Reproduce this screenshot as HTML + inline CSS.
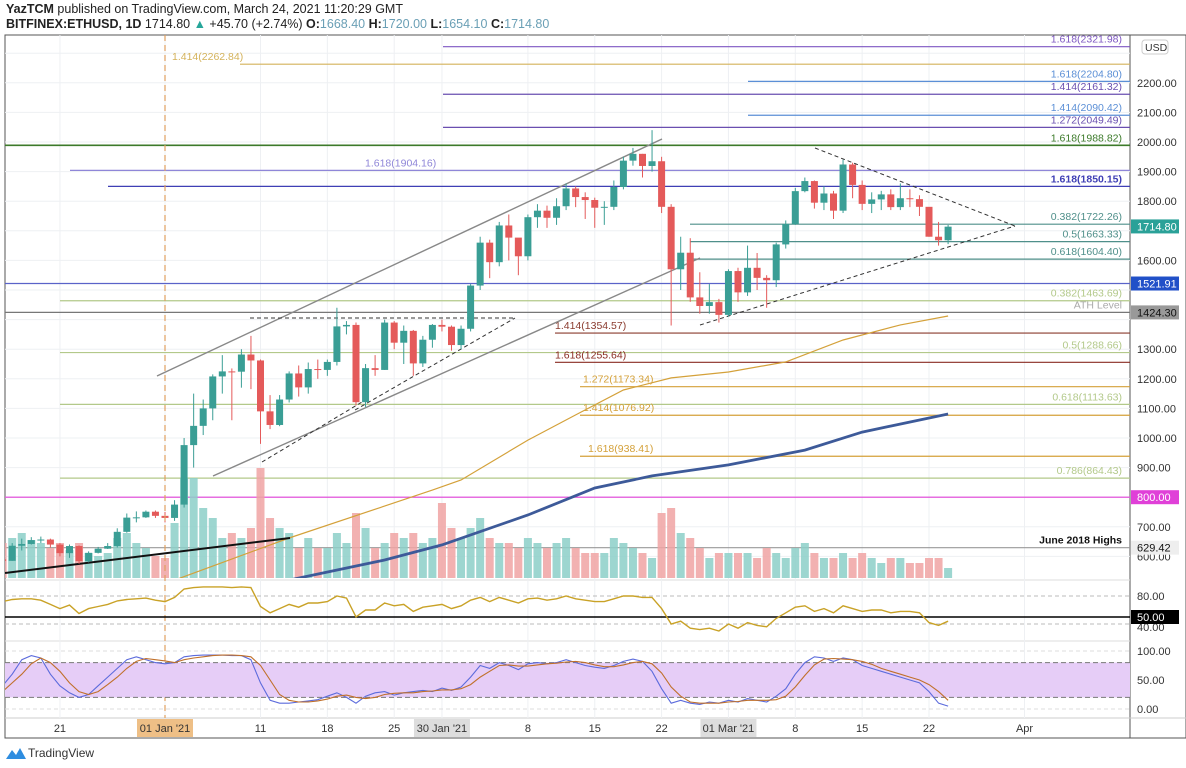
<!DOCTYPE html>
<html><head><meta charset="utf-8"><style>
html,body{margin:0;padding:0;background:#fff;width:1186px;height:768px;overflow:hidden;font-family:"Liberation Sans",sans-serif;}
#hdr1{position:absolute;left:6px;top:2px;font-size:12.5px;color:#222;}
#hdr2{position:absolute;left:6px;top:17px;font-size:12.5px;color:#222;}
.v{color:#6a9fb5}
svg{position:absolute;left:0;top:0}
text{font-family:"Liberation Sans",sans-serif}
</style></head><body>
<div id="hdr1"><b>YazTCM</b> published on TradingView.com, March 24, 2021 11:20:29 GMT</div>
<div id="hdr2"><b>BITFINEX:ETHUSD, 1D</b> 1714.80 <span style="color:#26a69a">▲</span> +45.70 (+2.74%) <b>O:</b><span class="v">1668.40</span> <b>H:</b><span class="v">1720.00</span> <b>L:</b><span class="v">1654.10</span> <b>C:</b><span class="v">1714.80</span></div>
<svg id="chart" width="1186" height="768"></svg>
<script>
const closes=[585,636,642,655,657,640,611,635,584,612,626,635,683,731,732,751,737,
730,775,976,1041,1100,1208,1225,1224,1282,1262,1090,1044,1130,1218,1171,1233,1230,1257,1377,1382,1121,1236,1230,1390,1322,1362,1252,1332,1382,1376,1314,
1369,1515,1660,1594,1718,1677,1614,1746,1768,1744,1783,1843,1814,1804,1778,1781,1848,1937,1960,1919,1935,1781,1570,1626,1475,1446,1459,1416,
1564,1492,1575,1541,1533,1654,1723,1834,1868,1795,1826,1768,1924,1855,1791,1806,1823,1780,1810,1807,1781,1680,1668,1714];
const highs=[595,645,660,665,667,660,645,640,637,617,632,645,695,745,752,755,755,
750,790,1000,1150,1130,1215,1280,1235,1300,1345,1265,1145,1145,1225,1245,1255,1265,1265,1440,1395,1390,1250,1280,1400,1395,1380,1365,1345,1385,1400,1380,
1380,1520,1680,1670,1730,1755,1630,1755,1790,1785,1810,1860,1850,1830,1812,1800,1870,1950,1980,1960,2040,1950,1790,1680,1675,1560,1520,1470,
1570,1575,1650,1625,1550,1660,1735,1845,1880,1870,1850,1835,1940,1930,1870,1830,1835,1840,1860,1840,1820,1780,1730,1720];
const lows=[578,585,620,640,645,630,600,595,575,580,610,625,630,680,715,730,730,
715,720,765,900,1010,1060,1150,1060,1170,1165,980,1030,1040,1120,1140,1150,1200,1210,1245,1350,1110,1105,1210,1230,1300,1250,1210,1240,1305,1360,1295,
1300,1360,1500,1540,1580,1600,1550,1600,1710,1710,1720,1770,1780,1740,1710,1720,1770,1840,1920,1880,1900,1760,1380,1500,1460,1420,1420,1390,
1410,1460,1480,1500,1440,1510,1640,1720,1830,1775,1770,1740,1760,1810,1770,1760,1770,1770,1770,1780,1750,1680,1650,1655];
const firstOpen=590;
const volumes=[35,40,45,38,35,30,35,28,35,25,22,25,40,45,35,30,22,
20,55,100,100,70,60,40,45,40,50,110,60,50,45,30,40,30,30,45,35,65,50,30,35,45,40,45,35,40,75,50,
40,50,60,40,35,35,30,40,35,30,35,40,30,25,25,25,40,35,30,25,20,65,70,45,40,30,20,25,
25,25,25,20,30,25,20,30,35,25,20,20,25,20,25,20,15,20,20,15,15,20,20,10];
const rsi=[72,75,76,76,74,68,62,67,55,62,65,68,73,75,76,77,74,
72,78,90,92,93,93,93,92,93,92,65,56,62,68,64,70,70,72,80,77,50,60,60,70,66,68,58,64,66,68,62,
66,74,78,72,78,74,70,76,77,74,76,80,76,74,72,72,76,80,80,78,78,62,40,44,34,32,34,30,
40,34,42,38,36,48,56,64,66,58,62,56,66,62,58,60,60,56,58,58,56,42,38,44];
const stochK=[40,60,85,92,88,60,40,28,20,25,40,55,70,85,90,85,80,
78,80,90,92,93,93,93,92,92,85,45,15,10,10,12,14,16,22,28,20,10,22,28,30,24,28,30,32,30,36,32,
38,55,75,70,80,75,68,78,80,78,80,85,80,75,72,70,75,82,86,82,65,35,10,15,10,8,12,10,
15,12,18,15,12,22,35,60,80,90,88,82,88,85,75,70,65,60,55,50,45,30,10,5];
const stochD=[30,45,60,78,88,80,65,45,30,25,30,42,55,70,82,87,85,
83,80,85,88,90,92,93,93,92,90,75,50,25,15,12,12,14,17,22,24,20,18,20,25,27,28,28,30,31,33,33,
35,42,55,65,75,76,74,74,76,78,79,81,82,80,76,73,73,76,80,82,78,62,38,22,12,10,10,10,
12,13,15,15,15,16,22,38,58,76,86,87,86,85,82,77,70,65,60,55,50,42,30,15];
const ma100Idx=[18,30,45,48,55,60,65,70,76,82,88,94,99];
const ma100Val=[520,662,824,858,993,1078,1162,1203,1223,1257,1331,1382,1412];
const ma200Idx=[30,40,46,55,62,68,76,84,90,99];
const ma200Val=[520,588,639,740,831,872,909,959,1020,1081];
const priceTicks=[2300,2200,2100,2000,1900,1800,1700,1600,1500,1400,1300,1200,1100,1000,900,800,700,600];
const hiddenTicks=[1700,1500,1400,800];
const dateTickIdx=[6,17,27,34,41,46,55,62,69,76,83,90,97,107];
const dateTickLbl=["21","01 Jan '21","11","18","25","30 Jan '21","8","15","22","01 Mar '21","8","15","22","Apr"];
const levels=[
 [2321.98,"#7e57c2",443,"1.618(2321.98)","r"],
 [2262.84,"#d4b25a",240,"1.414(2262.84)","l172"],
 [2204.80,"#5b8fd6",748,"1.618(2204.80)","r"],
 [2161.32,"#6a4fb0",443,"1.414(2161.32)","r"],
 [2090.42,"#5b8fd6",748,"1.414(2090.42)","r"],
 [2049.49,"#6a4fb0",443,"1.272(2049.49)","r"],
 [1988.82,"#3c7a2a",5,"1.618(1988.82)","r"],
 [1904.16,"#8f86d8",70,"1.618(1904.16)","l365"],
 [1850.15,"#3f3fb5",108,"1.618(1850.15)","rb"],
 [1722.26,"#4f8f8a",690,"0.382(1722.26)","r"],
 [1663.33,"#4f8f8a",690,"0.5(1663.33)","r"],
 [1604.40,"#4f8f8a",690,"0.618(1604.40)","r"],
 [1521.91,"#5a63c9",5,"",""],
 [1463.69,"#b3c98a",60,"0.382(1463.69)","r"],
 [1424.30,"#777",5,"ATH Level","rg"],
 [1354.57,"#8a3b2e",555,"1.414(1354.57)","l555"],
 [1288.66,"#b3c98a",60,"0.5(1288.66)","r"],
 [1255.64,"#8a2b22",555,"1.618(1255.64)","l555"],
 [1173.34,"#d4a13a",580,"1.272(1173.34)","l583"],
 [1113.63,"#b3c98a",60,"0.618(1113.63)","r"],
 [1076.92,"#d4a13a",580,"1.414(1076.92)","l583"],
 [938.41,"#d4a13a",580,"1.618(938.41)","l588"],
 [864.43,"#b3c98a",60,"0.786(864.43)","r"],
 [800,"#e040d8",5,"",""],
 [629.42,"#999",5,"June 2018 Highs","rb"]];
const NS="http://www.w3.org/2000/svg";
const svg=document.getElementById('chart');
function X(i){return 165+(i-17)*9.55;}
function Y(p){return 142+(2000-p)*0.296;}
function RY(r){return 617-(r-50)*0.7;}
function SY(s){return 709-s*0.58;}
function mk(tag,attrs,parent){const e=document.createElementNS(NS,tag);for(const k in attrs)e.setAttribute(k,attrs[k]);(parent||svg).appendChild(e);return e;}
const defs=mk('defs',{});
const cp=mk('clipPath',{id:'mainclip'},defs);mk('rect',{x:5,y:35,width:1125,height:543},cp);
const cp2=mk('clipPath',{id:'allclip'},defs);mk('rect',{x:5,y:35,width:1125,height:683},cp2);
let e=mk('rect',{x:5,y:35,width:1181,height:703,fill:'none',stroke:'#555','stroke-width':1});

mk('line',{x1:1130,y1:35,x2:1130,y2:738,stroke:'#555'});
mk('line',{x1:5,y1:718,x2:1186,y2:718,stroke:'#ccc'});
mk('line',{x1:5,y1:580,x2:1130,y2:580,stroke:'#ddd'});
mk('line',{x1:5,y1:641,x2:1130,y2:641,stroke:'#ddd'});
const grid=mk('g',{stroke:'#eef0f3','stroke-width':1});

priceTicks.forEach(p=>{if(Y(p)>40)mk('line',{x1:5,x2:1130,y1:Y(p),y2:Y(p)},grid);});
dateTickIdx.forEach(i=>mk('line',{x1:X(i),x2:X(i),y1:35,y2:718},grid));
const main=mk('g',{'clip-path':'url(#mainclip)'});
levels.forEach(L=>{
 const y=Y(L[0]);
 const ln=mk('line',{x1:L[2],x2:1130,y1:y,y2:y,stroke:L[1],'stroke-width':(L[0]===1988.82?1.6:1.2)},main);
 
 if(L[3]){
  let t;const s=L[4];
  if(s[0]==='r'){t=mk('text',{x:1122,y:y-4,'text-anchor':'end','font-size':10.5,fill:s==='rg'?'#aaa':L[1],'font-weight':s==='rb'?'bold':'normal'},main);if(s==='rb'&&L[0]<700)t.setAttribute('fill','#111');}
  else{t=mk('text',{x:+s.slice(1),y:y-4,'font-size':10.5,fill:L[1]},main);}
  t.textContent=L[3];
  
 }
});
const vg=mk('g',{},main);
closes.forEach((c,i)=>{const o=i?closes[i-1]:firstOpen;const h=volumes[i];
 const r=mk('rect',{x:X(i)-4,y:578-h,width:8,height:h,fill:c>=o?'#8ccfc8':'#f0a3a3',opacity:0.85},vg);
 });
function poly(idx,val,col,w,name){let d=idx.map((k,j)=>(j?'L':'M')+X(k).toFixed(1)+','+Y(val[j]).toFixed(1)).join(' ');
 const p=mk('path',{d:d,fill:'none',stroke:col,'stroke-width':w},main);}
poly(ma100Idx,ma100Val,'#d4a13a',1.2,'ma-100');
poly(ma200Idx,ma200Val,'#3d5a99',2.8,'ma-200');
function dl(x1,y1,x2,y2,col,w,dash,name){const l=mk('line',{x1,y1,x2,y2,stroke:col,'stroke-width':w},main);if(dash)l.setAttribute('stroke-dasharray',dash);}
dl(157,376,662,139,'#888',1.4,null,'channel-upper');
dl(213,476,700,258,'#888',1.4,null,'channel-lower');
dl(5,573,290,538,'#111',2,null,'trend-line');
dl(250,318,515,318,'#333',1,'4,3','triangle-top');
dl(355,410,515,318,'#333',1,'4,3','triangle-bottom');
dl(262,462,362,402,'#333',1,'4,3','support-dash');
dl(815,148,1015,226,'#333',1,'4,3','wedge-upper');
dl(700,325,1015,226,'#333',1,'4,3','wedge-lower');
const cg=mk('g',{},main);
closes.forEach((c,i)=>{const o=i?closes[i-1]:firstOpen;const col=c>=o?'#3a9e95':'#e45a5a';
 const x=X(i);
 const w=mk('line',{x1:x,x2:x,y1:Y(highs[i]),y2:Y(lows[i]),stroke:col,'stroke-width':1},cg);
 
 const t=Y(Math.max(o,c)),b=Y(Math.min(o,c));
 const r=mk('rect',{x:x-3.5,y:t,width:7,height:Math.max(1,b-t),fill:col},cg);
 });
e=mk('line',{x1:X(17),x2:X(17),y1:35,y2:718,stroke:'#e0a060','stroke-width':1.2,'stroke-dasharray':'6,4'});

[80,40].forEach(v=>mk('line',{x1:5,x2:1130,y1:RY(v),y2:RY(v),stroke:'#bbb','stroke-dasharray':'4,3'}));
mk('line',{x1:5,x2:1130,y1:RY(50),y2:RY(50),stroke:'#000','stroke-width':1.6});
let d=rsi.map((v,i)=>(i?'L':'M')+X(i).toFixed(1)+','+RY(v).toFixed(1)).join(' ');
e=mk('path',{d,fill:'none',stroke:'#c9a227','stroke-width':1.4,'clip-path':'url(#allclip)'});

e=mk('rect',{x:5,y:SY(80),width:1125,height:SY(20)-SY(80),fill:'#e6cdf7'});

[80,20].forEach(v=>mk('line',{x1:5,x2:1130,y1:SY(v),y2:SY(v),stroke:'#777','stroke-dasharray':'5,3'}));
[100,0].forEach(v=>mk('line',{x1:5,x2:1130,y1:SY(v),y2:SY(v),stroke:'#ddd','stroke-dasharray':'4,3'}));
d=stochK.map((v,i)=>(i?'L':'M')+X(i).toFixed(1)+','+SY(v).toFixed(1)).join(' ');
e=mk('path',{d,fill:'none',stroke:'#5c6bdc','stroke-width':1.1,'clip-path':'url(#allclip)'});

d=stochD.map((v,i)=>(i?'L':'M')+X(i).toFixed(1)+','+SY(v).toFixed(1)).join(' ');
e=mk('path',{d,fill:'none',stroke:'#c0702a','stroke-width':1.1,'clip-path':'url(#allclip)'});

function axText(y,txt,fill,bg,bold){ if(bg){const r=mk('rect',{x:1131,y:y-7,width:48,height:14,fill:bg});}
 const t=mk('text',{x:1137,y:y+4,'font-size':11,fill:fill||'#333','font-weight':bold?'bold':'normal'});t.textContent=txt;}
priceTicks.forEach(p=>{if(p<2300&&hiddenTicks.indexOf(p)<0)axText(Y(p),p.toFixed(2));});
e=mk('rect',{x:1142,y:40,width:26,height:14,rx:3,fill:'#fff',stroke:'#ccc'});
e=mk('text',{x:1145,y:51,'font-size':10.5,fill:'#333'});e.textContent='USD';
axText(Y(1714.8),'1714.80','#fff','#2aa198');
axText(Y(1521.91),'1521.91','#fff','#2150c8');
axText(Y(1424.30),'1424.30','#111','#999');
axText(Y(800),'800.00','#fff','#e040d8');
axText(Y(629.42),'629.42','#111','#eee');
axText(RY(80),'80.00');axText(RY(40)+3,'40.00');axText(RY(50),'50.00','#fff','#000');
axText(SY(100),'100.00');axText(SY(50),'50.00');axText(SY(0),'0.00');
dateTickIdx.forEach((i,k)=>{const x=X(i);const l=dateTickLbl[k];if(x>1135)return;
 if(l.indexOf("'")>0){const r=mk('rect',{x:x-28,y:719,width:56,height:18,fill:k===1?'#eebf86':'#ddd'});}
 const t=mk('text',{x:x,y:732,'text-anchor':'middle','font-size':11,fill:'#333'});t.textContent=l;});
const lg=mk('g',{});
mk('path',{d:'M6 759 L12 750 L16 755 L20 748 L26 759 Z',fill:'#2e8de0'},lg);
const lt=mk('text',{x:28,y:757,'font-size':12,fill:'#333'},lg);lt.textContent='TradingView';
</script>
</body></html>
